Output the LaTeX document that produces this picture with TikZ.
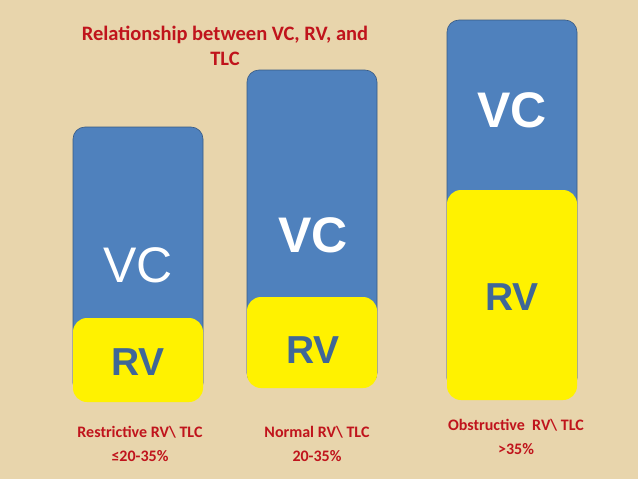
\documentclass[tikz,border=0pt]{standalone}
\usepackage{fontspec}
\setmainfont{Carlito}
\newfontfamily\arialf{Liberation Sans}
\definecolor{bg}{HTML}{E8D5AC}
\definecolor{barblue}{HTML}{4F81BD}
\definecolor{ttl}{HTML}{C0141C}
\tikzset{
 bluebar/.style={fill=barblue,draw=barblue!70!black,line width=0.6pt,rounded corners=12pt},
 yelbar/.style={fill=yellow,draw=none,rounded corners=14pt},
 big/.style={font=\arialf\fontsize{50}{50}\selectfont,text=white},
 bigb/.style={font=\arialf\bfseries\fontsize{50}{50}\selectfont,text=white},
 rv/.style={font=\arialf\bfseries\fontsize{39}{39}\selectfont,text=barblue!80!black},
 lab/.style={font=\bfseries\fontsize{16}{24}\selectfont,text=ttl,align=center}
}
\begin{document}
\begin{tikzpicture}[x=1pt,y=-1pt]
\fill[bg] (0,0) rectangle (638,479);
\useasboundingbox (0,0) rectangle (638,479);
\node[font=\bfseries\fontsize{20.5}{25}\selectfont,text=ttl,align=center] (t) at (225,46) {Relationship between VC, RV, and\\TLC};
\draw[bluebar] (73,127) rectangle (203,395);
\draw[yelbar] (73,318) rectangle (203,402);
\node[big] (vc1) at (138,265) {VC};
\node[rv] (rv1) at (138,362) {RV};
\draw[bluebar] (247,70) rectangle (377,385);
\draw[yelbar] (247,297) rectangle (377,388);
\node[bigb] (vc2) at (313,235) {VC};
\node[rv] (rv2) at (313,350) {RV};
\draw[bluebar] (447,20) rectangle (577,390);
\draw[yelbar] (447,190) rectangle (577,400);
\node[bigb] (vc3) at (512,110) {VC};
\node[rv] (rv3) at (512,297) {RV};
\node[lab] (l1) at (140,444) {Restrictive RV\textbackslash\ TLC\\≤20-35\%};
\node[lab] (l2) at (317,444) {Normal RV\textbackslash\ TLC\\20-35\%};
\node[lab] (l3) at (516,437) {Obstructive\ \ RV\textbackslash\ TLC\\>35\%};
\end{tikzpicture}
\end{document}
